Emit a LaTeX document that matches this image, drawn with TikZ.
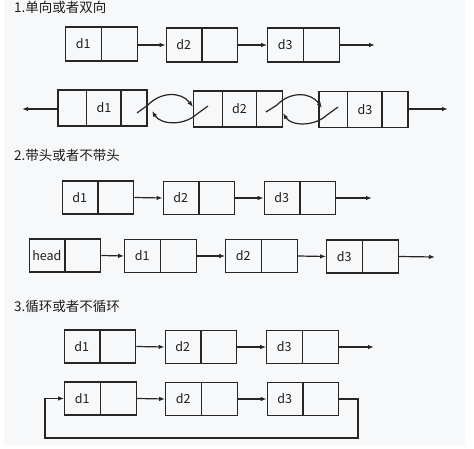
\documentclass[tikz,border=0pt]{standalone}
\usepackage{fontspec}
\setmainfont{Noto Sans CJK SC}
\usetikzlibrary{arrows.meta,calc}
\definecolor{linec}{HTML}{262626}
\definecolor{panelc}{HTML}{F7F8FA}
\definecolor{textc}{HTML}{1E1E1E}
\newcommand\tbox[5]{%
  \node[box,minimum height=#4] (#1) at (#2,#3) {};
  \draw[ln] (#1.north) -- (#1.south);
  \node[lab] (#1t) at ($(#1.west)!0.5!(#1.center)$) {#5};}
\newcommand\dbox[4]{%
  \node[box,minimum width=89pt,minimum height=36pt] (#1) at (#2,#3) {};
  \draw[ln] ($(#1.north west)!0.325!(#1.north east)$) -- ($(#1.south west)!0.325!(#1.south east)$);
  \draw[ln] ($(#1.north west)!0.705!(#1.north east)$) -- ($(#1.south west)!0.705!(#1.south east)$);
  \node[lab] (#1t) at ($(#1.west)!0.515!(#1.east)$) {#4};}
\begin{document}
\begin{tikzpicture}[x=1pt,y=-1pt,
  box/.style={draw=linec,line width=1.2pt,minimum width=71.5pt,inner sep=0pt},
  ln/.style={draw=linec,line width=1.2pt},
  arr/.style={draw=linec,line width=1.2pt,-{Latex[length=6pt,width=4.5pt]}},
  lab/.style={text=textc,font=\fontsize{12.5}{14}\selectfont,inner sep=0pt},
  title/.style={text=textc,font=\fontsize{13.5}{15}\selectfont,anchor=west,inner sep=0pt}]
\useasboundingbox (0,0) rectangle (474,449);
\fill[panelc] (4,0) rectangle (465,445);
% section 1
\node[title] (t1) at (14,7) {1.单向或者双向};
\tbox{a1}{101.5}{44}{34pt}{d1}
\tbox{a2}{202}{45}{34pt}{d2}
\tbox{a3}{303.5}{45}{34pt}{d3}
\coordinate (ae) at (375,45);
\draw[arr] (a1.east |- 0,45) -- (a2.west);
\draw[arr] (a2.east) -- (a3.west);
\draw[arr] (a3.east) -- (ae);
\dbox{A}{102.5}{108}{d1}
\dbox{B}{238}{109}{d2}
\dbox{C}{363.5}{109.5}{d3}
\coordinate (Al) at (22,109);
\coordinate (Cr) at (448,109);
\draw[arr] (A.west |- 0,109) -- (Al);
\draw[arr] (C.east |- 0,109) -- (Cr);
% double links A-B
\coordinate (p1) at (137,113); \coordinate (q1) at (148,105); \coordinate (r1) at (193,107);
\draw[arr] (p1) -- (q1) .. controls (160,92) and (181,91) .. (r1);
\coordinate (p2) at (208,106); \coordinate (q2) at (197,114); \coordinate (r2) at (152,111);
\draw[arr] (p2) -- (q2) .. controls (184,126) and (161,125) .. (r2);
% double links B-C
\coordinate (p3) at (266,112); \coordinate (q3) at (277,105); \coordinate (r3) at (322,108);
\draw[arr] (p3) -- (q3) .. controls (289,92) and (310,91) .. (r3);
\coordinate (p4) at (338,107); \coordinate (q4) at (327,115); \coordinate (r4) at (283,113);
\draw[arr] (p4) -- (q4) .. controls (314,127) and (291,126) .. (r4);
% section 2
\node[title] (t2) at (14,155) {2.带头或者不带头};
\tbox{b1}{98}{197.5}{33pt}{d1}
\tbox{b2}{199}{198}{33pt}{d2}
\tbox{b3}{300}{198}{33pt}{d3}
\coordinate (be) at (372,198);
\draw[arr] (b1.east) -- (b2.west);
\draw[arr] (b2.east) -- (b3.west);
\draw[arr] (b3.east) -- (be);
\tbox{h0}{65}{255.5}{33pt}{head}
\tbox{h1}{160.5}{256}{33pt}{d1}
\tbox{h2}{261.5}{256}{33pt}{d2}
\tbox{h3}{362.5}{256.5}{33pt}{d3}
\coordinate (he) at (435,257);
\draw[arr] (h0.east) -- (h1.west);
\draw[arr] (h1.east) -- (h2.west);
\draw[arr] (h2.east) -- (h3.west);
\draw[arr] (h3.east) -- (he);
% section 3
\node[title] (t3) at (14,306) {3.循环或者不循环};
\tbox{c1}{100}{346.5}{33pt}{d1}
\tbox{c2}{201}{347}{33pt}{d2}
\tbox{c3}{302.5}{347}{33pt}{d3}
\coordinate (ce) at (374,347);
\draw[arr] (c1.east) -- (c2.west);
\draw[arr] (c2.east) -- (c3.west);
\draw[arr] (c3.east) -- (ce);
\tbox{e1}{100.5}{398.5}{33pt}{d1}
\tbox{e2}{201.5}{399}{33pt}{d2}
\tbox{e3}{303}{399}{33pt}{d3}
\draw[arr] (e1.east) -- (e2.west);
\draw[arr] (e2.east) -- (e3.west);
\draw[arr] (e3.east) -| (358,438) -| (45,398.5) -- (e1.west);
\end{tikzpicture}
\end{document}
